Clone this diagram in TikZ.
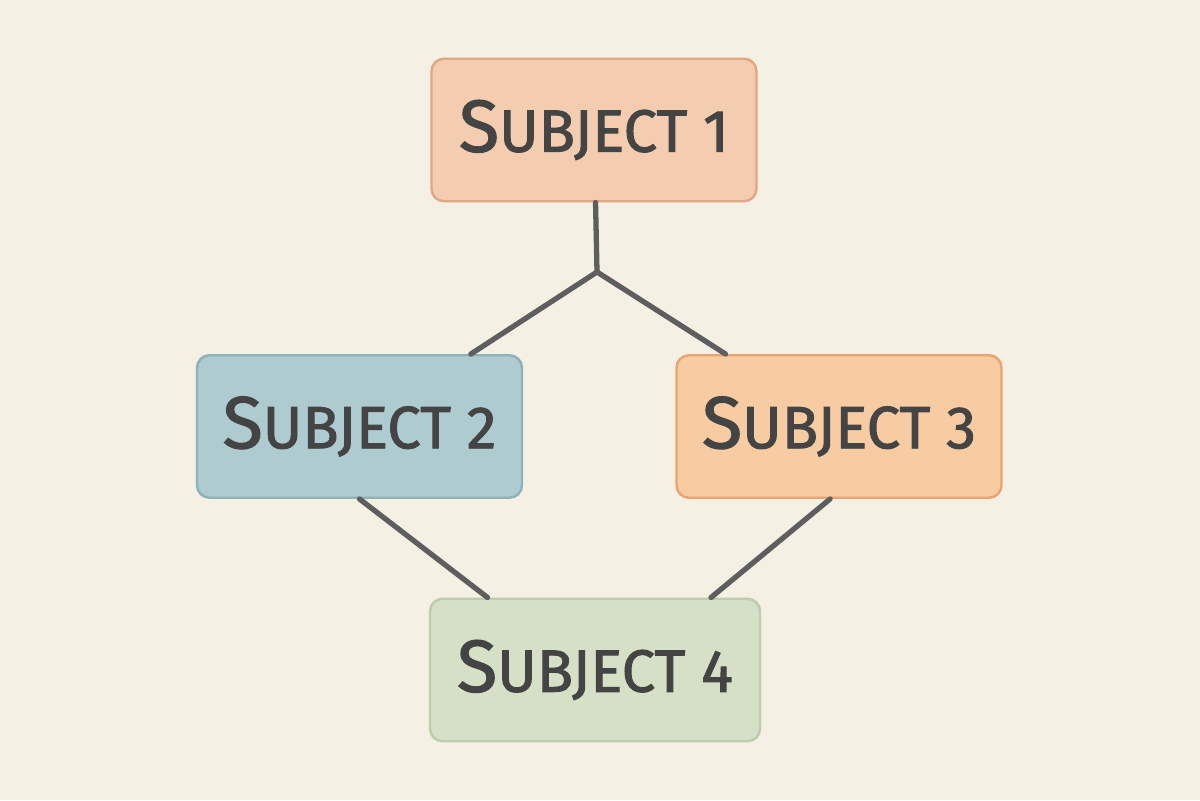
\documentclass[tikz,border=0pt]{standalone}
\usepackage{fontspec}
\setmainfont{Fira Sans}
\newfontfamily\handfont{Fira Sans}[FakeBold=1.6]
\usepackage{tikz}

\definecolor{paper}{HTML}{F5F0E4}
\definecolor{ink}{HTML}{444444}
\definecolor{wire}{HTML}{5E5E5E}
\definecolor{peachfill}{HTML}{F4CDB0}
\definecolor{peachline}{HTML}{E2A683}
\definecolor{bluefill}{HTML}{AECBD0}
\definecolor{blueline}{HTML}{8DB2BA}
\definecolor{orangefill}{HTML}{F7CCA2}
\definecolor{orangeline}{HTML}{E9A471}
\definecolor{greenfill}{HTML}{D6E0C6}
\definecolor{greenline}{HTML}{BDCDAC}

\newcommand{\subjtext}[1]{{\fontsize{42}{42}\selectfont S}UBJECT #1}

\begin{document}
\begin{tikzpicture} [align=center,
  subj/.style = {rectangle, rounded corners=0.25cm, line width=1.4pt,
                 minimum width=6.5cm, minimum height=2.85cm,
                 text=ink, font=\handfont\fontsize{34}{34}\selectfont},
  link/.style = {draw=wire, line width=3pt, line cap=round, line join=round}]

\useasboundingbox[fill=paper] (0,0) rectangle (24,16);

\path (11.88,13.4) node[subj, fill=peachfill, draw=peachline] (s1) {\subjtext{1}}
      (7.19,7.47) node[subj, fill=bluefill, draw=blueline] (s2) {\subjtext{2}}
      (16.78,7.47) node[subj, fill=orangefill, draw=orangeline] (s3) {\subjtext{3}}
      (11.9,2.6) node[subj, fill=greenfill, draw=greenline, minimum width=6.6cm] (s4) {\subjtext{4}};

\coordinate (j) at (11.94,10.56);

\draw[link] (s1) -- (j);
\draw[link] (j) -- (s2);
\draw[link] (j) -- (s3);
\draw[link] (s2.south) -- (s4.146);
\draw[link] (s3.263) -- (s4.32);

\end{tikzpicture}
\end{document}
